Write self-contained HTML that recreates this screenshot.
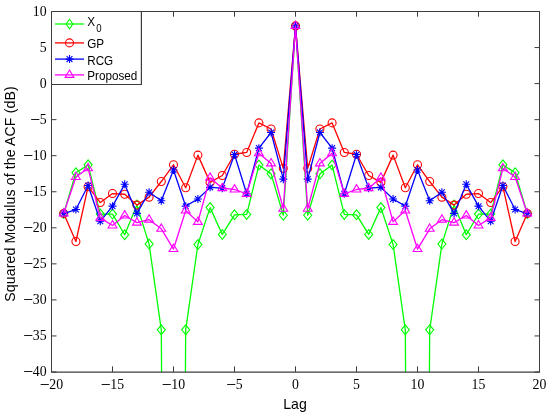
<!DOCTYPE html><html><head><meta charset="utf-8"><style>html,body{margin:0;padding:0;background:#fff;}svg{display:block}</style></head><body><svg width="550" height="417" viewBox="0 0 550 417">
<rect width="550" height="417" fill="#fff"/>
<defs><clipPath id="ax"><rect x="51" y="11" width="489" height="361"/></clipPath></defs>
<g clip-path="url(#ax)">
<polyline points="63.70,213.52 75.90,172.72 88.10,164.86 100.30,214.10 112.50,214.10 124.70,234.79 136.90,205.09 149.10,244.09 161.30,329.82 161.57,372.00" fill="none" stroke="#00ff00" stroke-width="1.3" stroke-linejoin="round"/>
<polyline points="185.43,372.00 185.70,329.82 197.90,244.53 210.10,207.61 222.30,234.43 234.50,214.82 246.70,214.46 258.90,165.07 271.10,173.87 283.30,215.25 295.50,25.92 307.70,215.25 319.90,173.87 332.10,165.07 344.30,214.46 356.50,214.82 368.70,234.43 380.90,207.61 393.10,244.53 405.30,329.82 405.57,372.00" fill="none" stroke="#00ff00" stroke-width="1.3" stroke-linejoin="round"/>
<polyline points="429.43,372.00 429.70,329.82 441.90,244.09 454.10,205.09 466.30,234.79 478.50,214.10 490.70,214.10 502.90,164.86 515.10,172.72 527.30,213.52" fill="none" stroke="#00ff00" stroke-width="1.3" stroke-linejoin="round"/>
<path d="M63.70,208.62L67.70,213.52L63.70,218.42L59.70,213.52Z" fill="none" stroke="#00ff00" stroke-width="1.1"/>
<path d="M75.90,167.82L79.90,172.72L75.90,177.62L71.90,172.72Z" fill="none" stroke="#00ff00" stroke-width="1.1"/>
<path d="M88.10,159.96L92.10,164.86L88.10,169.76L84.10,164.86Z" fill="none" stroke="#00ff00" stroke-width="1.1"/>
<path d="M100.30,209.20L104.30,214.10L100.30,219.00L96.30,214.10Z" fill="none" stroke="#00ff00" stroke-width="1.1"/>
<path d="M112.50,209.20L116.50,214.10L112.50,219.00L108.50,214.10Z" fill="none" stroke="#00ff00" stroke-width="1.1"/>
<path d="M124.70,229.89L128.70,234.79L124.70,239.69L120.70,234.79Z" fill="none" stroke="#00ff00" stroke-width="1.1"/>
<path d="M136.90,200.19L140.90,205.09L136.90,209.99L132.90,205.09Z" fill="none" stroke="#00ff00" stroke-width="1.1"/>
<path d="M149.10,239.19L153.10,244.09L149.10,248.99L145.10,244.09Z" fill="none" stroke="#00ff00" stroke-width="1.1"/>
<path d="M161.30,324.92L165.30,329.82L161.30,334.72L157.30,329.82Z" fill="none" stroke="#00ff00" stroke-width="1.1"/>
<path d="M185.70,324.92L189.70,329.82L185.70,334.72L181.70,329.82Z" fill="none" stroke="#00ff00" stroke-width="1.1"/>
<path d="M197.90,239.63L201.90,244.53L197.90,249.43L193.90,244.53Z" fill="none" stroke="#00ff00" stroke-width="1.1"/>
<path d="M210.10,202.71L214.10,207.61L210.10,212.51L206.10,207.61Z" fill="none" stroke="#00ff00" stroke-width="1.1"/>
<path d="M222.30,229.53L226.30,234.43L222.30,239.33L218.30,234.43Z" fill="none" stroke="#00ff00" stroke-width="1.1"/>
<path d="M234.50,209.92L238.50,214.82L234.50,219.72L230.50,214.82Z" fill="none" stroke="#00ff00" stroke-width="1.1"/>
<path d="M246.70,209.56L250.70,214.46L246.70,219.36L242.70,214.46Z" fill="none" stroke="#00ff00" stroke-width="1.1"/>
<path d="M258.90,160.17L262.90,165.07L258.90,169.97L254.90,165.07Z" fill="none" stroke="#00ff00" stroke-width="1.1"/>
<path d="M271.10,168.97L275.10,173.87L271.10,178.77L267.10,173.87Z" fill="none" stroke="#00ff00" stroke-width="1.1"/>
<path d="M283.30,210.35L287.30,215.25L283.30,220.15L279.30,215.25Z" fill="none" stroke="#00ff00" stroke-width="1.1"/>
<path d="M295.50,21.02L299.50,25.92L295.50,30.82L291.50,25.92Z" fill="none" stroke="#00ff00" stroke-width="1.1"/>
<path d="M307.70,210.35L311.70,215.25L307.70,220.15L303.70,215.25Z" fill="none" stroke="#00ff00" stroke-width="1.1"/>
<path d="M319.90,168.97L323.90,173.87L319.90,178.77L315.90,173.87Z" fill="none" stroke="#00ff00" stroke-width="1.1"/>
<path d="M332.10,160.17L336.10,165.07L332.10,169.97L328.10,165.07Z" fill="none" stroke="#00ff00" stroke-width="1.1"/>
<path d="M344.30,209.56L348.30,214.46L344.30,219.36L340.30,214.46Z" fill="none" stroke="#00ff00" stroke-width="1.1"/>
<path d="M356.50,209.92L360.50,214.82L356.50,219.72L352.50,214.82Z" fill="none" stroke="#00ff00" stroke-width="1.1"/>
<path d="M368.70,229.53L372.70,234.43L368.70,239.33L364.70,234.43Z" fill="none" stroke="#00ff00" stroke-width="1.1"/>
<path d="M380.90,202.71L384.90,207.61L380.90,212.51L376.90,207.61Z" fill="none" stroke="#00ff00" stroke-width="1.1"/>
<path d="M393.10,239.63L397.10,244.53L393.10,249.43L389.10,244.53Z" fill="none" stroke="#00ff00" stroke-width="1.1"/>
<path d="M405.30,324.92L409.30,329.82L405.30,334.72L401.30,329.82Z" fill="none" stroke="#00ff00" stroke-width="1.1"/>
<path d="M429.70,324.92L433.70,329.82L429.70,334.72L425.70,329.82Z" fill="none" stroke="#00ff00" stroke-width="1.1"/>
<path d="M441.90,239.19L445.90,244.09L441.90,248.99L437.90,244.09Z" fill="none" stroke="#00ff00" stroke-width="1.1"/>
<path d="M454.10,200.19L458.10,205.09L454.10,209.99L450.10,205.09Z" fill="none" stroke="#00ff00" stroke-width="1.1"/>
<path d="M466.30,229.89L470.30,234.79L466.30,239.69L462.30,234.79Z" fill="none" stroke="#00ff00" stroke-width="1.1"/>
<path d="M478.50,209.20L482.50,214.10L478.50,219.00L474.50,214.10Z" fill="none" stroke="#00ff00" stroke-width="1.1"/>
<path d="M490.70,209.20L494.70,214.10L490.70,219.00L486.70,214.10Z" fill="none" stroke="#00ff00" stroke-width="1.1"/>
<path d="M502.90,159.96L506.90,164.86L502.90,169.76L498.90,164.86Z" fill="none" stroke="#00ff00" stroke-width="1.1"/>
<path d="M515.10,167.82L519.10,172.72L515.10,177.62L511.10,172.72Z" fill="none" stroke="#00ff00" stroke-width="1.1"/>
<path d="M527.30,208.62L531.30,213.52L527.30,218.42L523.30,213.52Z" fill="none" stroke="#00ff00" stroke-width="1.1"/>
<polyline points="63.70,213.52 75.90,241.50 88.10,186.70 100.30,202.56 112.50,193.55 124.70,194.27 136.90,205.09 149.10,197.16 161.30,181.51 173.50,164.78 185.70,187.71 197.90,155.12 210.10,182.38 222.30,175.53 234.50,154.26 246.70,152.46 258.90,122.89 271.10,129.02 283.30,168.32 295.50,25.92 307.70,168.32 319.90,129.02 332.10,122.89 344.30,152.46 356.50,154.26 368.70,175.53 380.90,182.38 393.10,155.12 405.30,187.71 417.50,164.78 429.70,181.51 441.90,197.16 454.10,205.09 466.30,194.27 478.50,193.55 490.70,202.56 502.90,186.70 515.10,241.50 527.30,213.52" fill="none" stroke="#ff0000" stroke-width="1.3" stroke-linejoin="round"/>
<circle cx="63.70" cy="213.52" r="4" fill="none" stroke="#ff0000" stroke-width="1.1"/>
<circle cx="75.90" cy="241.50" r="4" fill="none" stroke="#ff0000" stroke-width="1.1"/>
<circle cx="88.10" cy="186.70" r="4" fill="none" stroke="#ff0000" stroke-width="1.1"/>
<circle cx="100.30" cy="202.56" r="4" fill="none" stroke="#ff0000" stroke-width="1.1"/>
<circle cx="112.50" cy="193.55" r="4" fill="none" stroke="#ff0000" stroke-width="1.1"/>
<circle cx="124.70" cy="194.27" r="4" fill="none" stroke="#ff0000" stroke-width="1.1"/>
<circle cx="136.90" cy="205.09" r="4" fill="none" stroke="#ff0000" stroke-width="1.1"/>
<circle cx="149.10" cy="197.16" r="4" fill="none" stroke="#ff0000" stroke-width="1.1"/>
<circle cx="161.30" cy="181.51" r="4" fill="none" stroke="#ff0000" stroke-width="1.1"/>
<circle cx="173.50" cy="164.78" r="4" fill="none" stroke="#ff0000" stroke-width="1.1"/>
<circle cx="185.70" cy="187.71" r="4" fill="none" stroke="#ff0000" stroke-width="1.1"/>
<circle cx="197.90" cy="155.12" r="4" fill="none" stroke="#ff0000" stroke-width="1.1"/>
<circle cx="210.10" cy="182.38" r="4" fill="none" stroke="#ff0000" stroke-width="1.1"/>
<circle cx="222.30" cy="175.53" r="4" fill="none" stroke="#ff0000" stroke-width="1.1"/>
<circle cx="234.50" cy="154.26" r="4" fill="none" stroke="#ff0000" stroke-width="1.1"/>
<circle cx="246.70" cy="152.46" r="4" fill="none" stroke="#ff0000" stroke-width="1.1"/>
<circle cx="258.90" cy="122.89" r="4" fill="none" stroke="#ff0000" stroke-width="1.1"/>
<circle cx="271.10" cy="129.02" r="4" fill="none" stroke="#ff0000" stroke-width="1.1"/>
<circle cx="283.30" cy="168.32" r="4" fill="none" stroke="#ff0000" stroke-width="1.1"/>
<circle cx="295.50" cy="25.92" r="4" fill="none" stroke="#ff0000" stroke-width="1.1"/>
<circle cx="307.70" cy="168.32" r="4" fill="none" stroke="#ff0000" stroke-width="1.1"/>
<circle cx="319.90" cy="129.02" r="4" fill="none" stroke="#ff0000" stroke-width="1.1"/>
<circle cx="332.10" cy="122.89" r="4" fill="none" stroke="#ff0000" stroke-width="1.1"/>
<circle cx="344.30" cy="152.46" r="4" fill="none" stroke="#ff0000" stroke-width="1.1"/>
<circle cx="356.50" cy="154.26" r="4" fill="none" stroke="#ff0000" stroke-width="1.1"/>
<circle cx="368.70" cy="175.53" r="4" fill="none" stroke="#ff0000" stroke-width="1.1"/>
<circle cx="380.90" cy="182.38" r="4" fill="none" stroke="#ff0000" stroke-width="1.1"/>
<circle cx="393.10" cy="155.12" r="4" fill="none" stroke="#ff0000" stroke-width="1.1"/>
<circle cx="405.30" cy="187.71" r="4" fill="none" stroke="#ff0000" stroke-width="1.1"/>
<circle cx="417.50" cy="164.78" r="4" fill="none" stroke="#ff0000" stroke-width="1.1"/>
<circle cx="429.70" cy="181.51" r="4" fill="none" stroke="#ff0000" stroke-width="1.1"/>
<circle cx="441.90" cy="197.16" r="4" fill="none" stroke="#ff0000" stroke-width="1.1"/>
<circle cx="454.10" cy="205.09" r="4" fill="none" stroke="#ff0000" stroke-width="1.1"/>
<circle cx="466.30" cy="194.27" r="4" fill="none" stroke="#ff0000" stroke-width="1.1"/>
<circle cx="478.50" cy="193.55" r="4" fill="none" stroke="#ff0000" stroke-width="1.1"/>
<circle cx="490.70" cy="202.56" r="4" fill="none" stroke="#ff0000" stroke-width="1.1"/>
<circle cx="502.90" cy="186.70" r="4" fill="none" stroke="#ff0000" stroke-width="1.1"/>
<circle cx="515.10" cy="241.50" r="4" fill="none" stroke="#ff0000" stroke-width="1.1"/>
<circle cx="527.30" cy="213.52" r="4" fill="none" stroke="#ff0000" stroke-width="1.1"/>
<polyline points="63.70,213.52 75.90,209.56 88.10,185.55 100.30,221.31 112.50,206.17 124.70,184.32 136.90,213.38 149.10,192.25 161.30,200.76 173.50,170.05 185.70,206.17 197.90,198.96 210.10,187.35 222.30,188.15 234.50,154.47 246.70,193.77 258.90,148.13 271.10,132.48 283.30,179.13 295.50,25.92 307.70,179.13 319.90,132.48 332.10,148.13 344.30,193.77 356.50,154.47 368.70,188.15 380.90,187.35 393.10,198.96 405.30,206.17 417.50,170.05 429.70,200.76 441.90,192.25 454.10,213.38 466.30,184.32 478.50,206.17 490.70,221.31 502.90,185.55 515.10,209.56 527.30,213.52" fill="none" stroke="#0000ff" stroke-width="1.3" stroke-linejoin="round"/>
<path d="M63.70,209.52V217.52M59.70,213.52H67.70M60.80,210.62L66.60,216.42M60.80,216.42L66.60,210.62" fill="none" stroke="#0000ff" stroke-width="1.1"/>
<path d="M75.90,205.56V213.56M71.90,209.56H79.90M73.00,206.66L78.80,212.46M73.00,212.46L78.80,206.66" fill="none" stroke="#0000ff" stroke-width="1.1"/>
<path d="M88.10,181.55V189.55M84.10,185.55H92.10M85.20,182.65L91.00,188.45M85.20,188.45L91.00,182.65" fill="none" stroke="#0000ff" stroke-width="1.1"/>
<path d="M100.30,217.31V225.31M96.30,221.31H104.30M97.40,218.41L103.20,224.21M97.40,224.21L103.20,218.41" fill="none" stroke="#0000ff" stroke-width="1.1"/>
<path d="M112.50,202.17V210.17M108.50,206.17H116.50M109.60,203.27L115.40,209.07M109.60,209.07L115.40,203.27" fill="none" stroke="#0000ff" stroke-width="1.1"/>
<path d="M124.70,180.32V188.32M120.70,184.32H128.70M121.80,181.42L127.60,187.22M121.80,187.22L127.60,181.42" fill="none" stroke="#0000ff" stroke-width="1.1"/>
<path d="M136.90,209.38V217.38M132.90,213.38H140.90M134.00,210.48L139.80,216.28M134.00,216.28L139.80,210.48" fill="none" stroke="#0000ff" stroke-width="1.1"/>
<path d="M149.10,188.25V196.25M145.10,192.25H153.10M146.20,189.35L152.00,195.15M146.20,195.15L152.00,189.35" fill="none" stroke="#0000ff" stroke-width="1.1"/>
<path d="M161.30,196.76V204.76M157.30,200.76H165.30M158.40,197.86L164.20,203.66M158.40,203.66L164.20,197.86" fill="none" stroke="#0000ff" stroke-width="1.1"/>
<path d="M173.50,166.05V174.05M169.50,170.05H177.50M170.60,167.15L176.40,172.95M170.60,172.95L176.40,167.15" fill="none" stroke="#0000ff" stroke-width="1.1"/>
<path d="M185.70,202.17V210.17M181.70,206.17H189.70M182.80,203.27L188.60,209.07M182.80,209.07L188.60,203.27" fill="none" stroke="#0000ff" stroke-width="1.1"/>
<path d="M197.90,194.96V202.96M193.90,198.96H201.90M195.00,196.06L200.80,201.86M195.00,201.86L200.80,196.06" fill="none" stroke="#0000ff" stroke-width="1.1"/>
<path d="M210.10,183.35V191.35M206.10,187.35H214.10M207.20,184.45L213.00,190.25M207.20,190.25L213.00,184.45" fill="none" stroke="#0000ff" stroke-width="1.1"/>
<path d="M222.30,184.15V192.15M218.30,188.15H226.30M219.40,185.25L225.20,191.05M219.40,191.05L225.20,185.25" fill="none" stroke="#0000ff" stroke-width="1.1"/>
<path d="M234.50,150.47V158.47M230.50,154.47H238.50M231.60,151.57L237.40,157.37M231.60,157.37L237.40,151.57" fill="none" stroke="#0000ff" stroke-width="1.1"/>
<path d="M246.70,189.77V197.77M242.70,193.77H250.70M243.80,190.87L249.60,196.67M243.80,196.67L249.60,190.87" fill="none" stroke="#0000ff" stroke-width="1.1"/>
<path d="M258.90,144.13V152.13M254.90,148.13H262.90M256.00,145.23L261.80,151.03M256.00,151.03L261.80,145.23" fill="none" stroke="#0000ff" stroke-width="1.1"/>
<path d="M271.10,128.48V136.48M267.10,132.48H275.10M268.20,129.58L274.00,135.38M268.20,135.38L274.00,129.58" fill="none" stroke="#0000ff" stroke-width="1.1"/>
<path d="M283.30,175.13V183.13M279.30,179.13H287.30M280.40,176.23L286.20,182.03M280.40,182.03L286.20,176.23" fill="none" stroke="#0000ff" stroke-width="1.1"/>
<path d="M295.50,21.92V29.92M291.50,25.92H299.50M292.60,23.02L298.40,28.82M292.60,28.82L298.40,23.02" fill="none" stroke="#0000ff" stroke-width="1.1"/>
<path d="M307.70,175.13V183.13M303.70,179.13H311.70M304.80,176.23L310.60,182.03M304.80,182.03L310.60,176.23" fill="none" stroke="#0000ff" stroke-width="1.1"/>
<path d="M319.90,128.48V136.48M315.90,132.48H323.90M317.00,129.58L322.80,135.38M317.00,135.38L322.80,129.58" fill="none" stroke="#0000ff" stroke-width="1.1"/>
<path d="M332.10,144.13V152.13M328.10,148.13H336.10M329.20,145.23L335.00,151.03M329.20,151.03L335.00,145.23" fill="none" stroke="#0000ff" stroke-width="1.1"/>
<path d="M344.30,189.77V197.77M340.30,193.77H348.30M341.40,190.87L347.20,196.67M341.40,196.67L347.20,190.87" fill="none" stroke="#0000ff" stroke-width="1.1"/>
<path d="M356.50,150.47V158.47M352.50,154.47H360.50M353.60,151.57L359.40,157.37M353.60,157.37L359.40,151.57" fill="none" stroke="#0000ff" stroke-width="1.1"/>
<path d="M368.70,184.15V192.15M364.70,188.15H372.70M365.80,185.25L371.60,191.05M365.80,191.05L371.60,185.25" fill="none" stroke="#0000ff" stroke-width="1.1"/>
<path d="M380.90,183.35V191.35M376.90,187.35H384.90M378.00,184.45L383.80,190.25M378.00,190.25L383.80,184.45" fill="none" stroke="#0000ff" stroke-width="1.1"/>
<path d="M393.10,194.96V202.96M389.10,198.96H397.10M390.20,196.06L396.00,201.86M390.20,201.86L396.00,196.06" fill="none" stroke="#0000ff" stroke-width="1.1"/>
<path d="M405.30,202.17V210.17M401.30,206.17H409.30M402.40,203.27L408.20,209.07M402.40,209.07L408.20,203.27" fill="none" stroke="#0000ff" stroke-width="1.1"/>
<path d="M417.50,166.05V174.05M413.50,170.05H421.50M414.60,167.15L420.40,172.95M414.60,172.95L420.40,167.15" fill="none" stroke="#0000ff" stroke-width="1.1"/>
<path d="M429.70,196.76V204.76M425.70,200.76H433.70M426.80,197.86L432.60,203.66M426.80,203.66L432.60,197.86" fill="none" stroke="#0000ff" stroke-width="1.1"/>
<path d="M441.90,188.25V196.25M437.90,192.25H445.90M439.00,189.35L444.80,195.15M439.00,195.15L444.80,189.35" fill="none" stroke="#0000ff" stroke-width="1.1"/>
<path d="M454.10,209.38V217.38M450.10,213.38H458.10M451.20,210.48L457.00,216.28M451.20,216.28L457.00,210.48" fill="none" stroke="#0000ff" stroke-width="1.1"/>
<path d="M466.30,180.32V188.32M462.30,184.32H470.30M463.40,181.42L469.20,187.22M463.40,187.22L469.20,181.42" fill="none" stroke="#0000ff" stroke-width="1.1"/>
<path d="M478.50,202.17V210.17M474.50,206.17H482.50M475.60,203.27L481.40,209.07M475.60,209.07L481.40,203.27" fill="none" stroke="#0000ff" stroke-width="1.1"/>
<path d="M490.70,217.31V225.31M486.70,221.31H494.70M487.80,218.41L493.60,224.21M487.80,224.21L493.60,218.41" fill="none" stroke="#0000ff" stroke-width="1.1"/>
<path d="M502.90,181.55V189.55M498.90,185.55H506.90M500.00,182.65L505.80,188.45M500.00,188.45L505.80,182.65" fill="none" stroke="#0000ff" stroke-width="1.1"/>
<path d="M515.10,205.56V213.56M511.10,209.56H519.10M512.20,206.66L518.00,212.46M512.20,212.46L518.00,206.66" fill="none" stroke="#0000ff" stroke-width="1.1"/>
<path d="M527.30,209.52V217.52M523.30,213.52H531.30M524.40,210.62L530.20,216.42M524.40,216.42L530.20,210.62" fill="none" stroke="#0000ff" stroke-width="1.1"/>
<polyline points="63.70,213.52 75.90,176.97 88.10,168.32 100.30,217.85 112.50,225.49 124.70,215.54 136.90,222.61 149.10,219.65 161.30,228.81 173.50,249.07 185.70,210.50 197.90,221.89 210.10,177.76 222.30,188.15 234.50,189.51 246.70,193.91 258.90,153.18 271.10,163.41 283.30,208.77 295.50,25.92 307.70,208.77 319.90,163.41 332.10,153.18 344.30,193.91 356.50,189.51 368.70,188.15 380.90,177.76 393.10,221.89 405.30,210.50 417.50,249.07 429.70,228.81 441.90,219.65 454.10,222.61 466.30,215.54 478.50,225.49 490.70,217.85 502.90,168.32 515.10,176.97 527.30,213.52" fill="none" stroke="#ff00ff" stroke-width="1.3" stroke-linejoin="round"/>
<path d="M63.70,208.62L68.10,216.02L59.30,216.02Z" fill="none" stroke="#ff00ff" stroke-width="1.1"/>
<path d="M75.90,172.07L80.30,179.47L71.50,179.47Z" fill="none" stroke="#ff00ff" stroke-width="1.1"/>
<path d="M88.10,163.42L92.50,170.82L83.70,170.82Z" fill="none" stroke="#ff00ff" stroke-width="1.1"/>
<path d="M100.30,212.95L104.70,220.35L95.90,220.35Z" fill="none" stroke="#ff00ff" stroke-width="1.1"/>
<path d="M112.50,220.59L116.90,227.99L108.10,227.99Z" fill="none" stroke="#ff00ff" stroke-width="1.1"/>
<path d="M124.70,210.64L129.10,218.04L120.30,218.04Z" fill="none" stroke="#ff00ff" stroke-width="1.1"/>
<path d="M136.90,217.71L141.30,225.11L132.50,225.11Z" fill="none" stroke="#ff00ff" stroke-width="1.1"/>
<path d="M149.10,214.75L153.50,222.15L144.70,222.15Z" fill="none" stroke="#ff00ff" stroke-width="1.1"/>
<path d="M161.30,223.91L165.70,231.31L156.90,231.31Z" fill="none" stroke="#ff00ff" stroke-width="1.1"/>
<path d="M173.50,244.17L177.90,251.57L169.10,251.57Z" fill="none" stroke="#ff00ff" stroke-width="1.1"/>
<path d="M185.70,205.60L190.10,213.00L181.30,213.00Z" fill="none" stroke="#ff00ff" stroke-width="1.1"/>
<path d="M197.90,216.99L202.30,224.39L193.50,224.39Z" fill="none" stroke="#ff00ff" stroke-width="1.1"/>
<path d="M210.10,172.86L214.50,180.26L205.70,180.26Z" fill="none" stroke="#ff00ff" stroke-width="1.1"/>
<path d="M222.30,183.25L226.70,190.65L217.90,190.65Z" fill="none" stroke="#ff00ff" stroke-width="1.1"/>
<path d="M234.50,184.61L238.90,192.01L230.10,192.01Z" fill="none" stroke="#ff00ff" stroke-width="1.1"/>
<path d="M246.70,189.01L251.10,196.41L242.30,196.41Z" fill="none" stroke="#ff00ff" stroke-width="1.1"/>
<path d="M258.90,148.28L263.30,155.68L254.50,155.68Z" fill="none" stroke="#ff00ff" stroke-width="1.1"/>
<path d="M271.10,158.51L275.50,165.91L266.70,165.91Z" fill="none" stroke="#ff00ff" stroke-width="1.1"/>
<path d="M283.30,203.87L287.70,211.27L278.90,211.27Z" fill="none" stroke="#ff00ff" stroke-width="1.1"/>
<path d="M295.50,21.02L299.90,28.42L291.10,28.42Z" fill="none" stroke="#ff00ff" stroke-width="1.1"/>
<path d="M307.70,203.87L312.10,211.27L303.30,211.27Z" fill="none" stroke="#ff00ff" stroke-width="1.1"/>
<path d="M319.90,158.51L324.30,165.91L315.50,165.91Z" fill="none" stroke="#ff00ff" stroke-width="1.1"/>
<path d="M332.10,148.28L336.50,155.68L327.70,155.68Z" fill="none" stroke="#ff00ff" stroke-width="1.1"/>
<path d="M344.30,189.01L348.70,196.41L339.90,196.41Z" fill="none" stroke="#ff00ff" stroke-width="1.1"/>
<path d="M356.50,184.61L360.90,192.01L352.10,192.01Z" fill="none" stroke="#ff00ff" stroke-width="1.1"/>
<path d="M368.70,183.25L373.10,190.65L364.30,190.65Z" fill="none" stroke="#ff00ff" stroke-width="1.1"/>
<path d="M380.90,172.86L385.30,180.26L376.50,180.26Z" fill="none" stroke="#ff00ff" stroke-width="1.1"/>
<path d="M393.10,216.99L397.50,224.39L388.70,224.39Z" fill="none" stroke="#ff00ff" stroke-width="1.1"/>
<path d="M405.30,205.60L409.70,213.00L400.90,213.00Z" fill="none" stroke="#ff00ff" stroke-width="1.1"/>
<path d="M417.50,244.17L421.90,251.57L413.10,251.57Z" fill="none" stroke="#ff00ff" stroke-width="1.1"/>
<path d="M429.70,223.91L434.10,231.31L425.30,231.31Z" fill="none" stroke="#ff00ff" stroke-width="1.1"/>
<path d="M441.90,214.75L446.30,222.15L437.50,222.15Z" fill="none" stroke="#ff00ff" stroke-width="1.1"/>
<path d="M454.10,217.71L458.50,225.11L449.70,225.11Z" fill="none" stroke="#ff00ff" stroke-width="1.1"/>
<path d="M466.30,210.64L470.70,218.04L461.90,218.04Z" fill="none" stroke="#ff00ff" stroke-width="1.1"/>
<path d="M478.50,220.59L482.90,227.99L474.10,227.99Z" fill="none" stroke="#ff00ff" stroke-width="1.1"/>
<path d="M490.70,212.95L495.10,220.35L486.30,220.35Z" fill="none" stroke="#ff00ff" stroke-width="1.1"/>
<path d="M502.90,163.42L507.30,170.82L498.50,170.82Z" fill="none" stroke="#ff00ff" stroke-width="1.1"/>
<path d="M515.10,172.07L519.50,179.47L510.70,179.47Z" fill="none" stroke="#ff00ff" stroke-width="1.1"/>
<path d="M527.30,208.62L531.70,216.02L522.90,216.02Z" fill="none" stroke="#ff00ff" stroke-width="1.1"/>
</g>
<path d="M51.5,372.1V11.5H539.5V372.1" fill="none" stroke="#3c3c3c" stroke-width="1"/>
<path d="M51.0,372.1H540.0" fill="none" stroke="#3c3c3c" stroke-width="1.4"/>
<path d="M51.5,372.0V366.4M51.5,11.5V16.7M112.5,372.0V366.4M112.5,11.5V16.7M173.5,372.0V366.4M173.5,11.5V16.7M234.5,372.0V366.4M234.5,11.5V16.7M295.5,372.0V366.4M295.5,11.5V16.7M356.5,372.0V366.4M356.5,11.5V16.7M417.5,372.0V366.4M417.5,11.5V16.7M478.5,372.0V366.4M478.5,11.5V16.7M539.5,372.0V366.4M539.5,11.5V16.7M51.5,372.00H56.5M539.5,372.00H534.5M51.5,335.95H56.5M539.5,335.95H534.5M51.5,299.90H56.5M539.5,299.90H534.5M51.5,263.85H56.5M539.5,263.85H534.5M51.5,227.80H56.5M539.5,227.80H534.5M51.5,191.75H56.5M539.5,191.75H534.5M51.5,155.70H56.5M539.5,155.70H534.5M51.5,119.65H56.5M539.5,119.65H534.5M51.5,83.60H56.5M539.5,83.60H534.5M51.5,47.55H56.5M539.5,47.55H534.5M51.5,11.50H56.5M539.5,11.50H534.5" stroke="#3c3c3c" stroke-width="1" fill="none"/>
<g font-family="Liberation Serif, serif" font-size="13.8" fill="#000">
<text x="51.50" y="388.5" text-anchor="middle"><tspan font-size="16.5" dy="1.2" stroke="#000" stroke-width="0.35">−</tspan><tspan dy="-1.2">20</tspan></text>
<text x="112.50" y="388.5" text-anchor="middle"><tspan font-size="16.5" dy="1.2" stroke="#000" stroke-width="0.35">−</tspan><tspan dy="-1.2">15</tspan></text>
<text x="173.50" y="388.5" text-anchor="middle"><tspan font-size="16.5" dy="1.2" stroke="#000" stroke-width="0.35">−</tspan><tspan dy="-1.2">10</tspan></text>
<text x="234.50" y="388.5" text-anchor="middle"><tspan font-size="16.5" dy="1.2" stroke="#000" stroke-width="0.35">−</tspan><tspan dy="-1.2">5</tspan></text>
<text x="295.50" y="388.5" text-anchor="middle">0</text>
<text x="356.50" y="388.5" text-anchor="middle">5</text>
<text x="417.50" y="388.5" text-anchor="middle">10</text>
<text x="478.50" y="388.5" text-anchor="middle">15</text>
<text x="539.50" y="388.5" text-anchor="middle">20</text>
<text x="46.6" y="376.00" text-anchor="end"><tspan font-size="16.5" dy="1.2" stroke="#000" stroke-width="0.35">−</tspan><tspan dy="-1.2">40</tspan></text>
<text x="46.6" y="339.95" text-anchor="end"><tspan font-size="16.5" dy="1.2" stroke="#000" stroke-width="0.35">−</tspan><tspan dy="-1.2">35</tspan></text>
<text x="46.6" y="303.90" text-anchor="end"><tspan font-size="16.5" dy="1.2" stroke="#000" stroke-width="0.35">−</tspan><tspan dy="-1.2">30</tspan></text>
<text x="46.6" y="267.85" text-anchor="end"><tspan font-size="16.5" dy="1.2" stroke="#000" stroke-width="0.35">−</tspan><tspan dy="-1.2">25</tspan></text>
<text x="46.6" y="231.80" text-anchor="end"><tspan font-size="16.5" dy="1.2" stroke="#000" stroke-width="0.35">−</tspan><tspan dy="-1.2">20</tspan></text>
<text x="46.6" y="195.75" text-anchor="end"><tspan font-size="16.5" dy="1.2" stroke="#000" stroke-width="0.35">−</tspan><tspan dy="-1.2">15</tspan></text>
<text x="46.6" y="159.70" text-anchor="end"><tspan font-size="16.5" dy="1.2" stroke="#000" stroke-width="0.35">−</tspan><tspan dy="-1.2">10</tspan></text>
<text x="46.6" y="123.65" text-anchor="end"><tspan font-size="16.5" dy="1.2" stroke="#000" stroke-width="0.35">−</tspan><tspan dy="-1.2">5</tspan></text>
<text x="46.6" y="87.60" text-anchor="end">0</text>
<text x="46.6" y="51.55" text-anchor="end">5</text>
<text x="46.6" y="15.50" text-anchor="end">10</text>
</g>
<g font-family="Liberation Sans, Arial, sans-serif" font-size="14.1" fill="#000">
<text x="295" y="409.4" text-anchor="middle">Lag</text>
<text transform="translate(14.9,194.0) rotate(-90)" text-anchor="middle" letter-spacing="0.13">Squared Modulus of the ACF (dB)</text>
</g>
<rect x="51.5" y="11.5" width="89.9" height="73" fill="#fff"/>
<path d="M51.5,11.5H141.4M51.5,84.5H141.4M51.5,11.5V84.5" fill="none" stroke="#3c3c3c" stroke-width="1"/>
<path d="M141.4,11.0V85" fill="none" stroke="#3c3c3c" stroke-width="1.2"/>
<path d="M55,24.0H84" stroke="#00ff00" stroke-width="1.3"/>
<path d="M69.50,19.30L72.90,24.00L69.50,28.70L66.10,24.00Z" fill="none" stroke="#00ff00" stroke-width="1.1"/>
<path d="M55,42.9H84" stroke="#ff0000" stroke-width="1.3"/>
<circle cx="69.50" cy="42.90" r="4" fill="none" stroke="#ff0000" stroke-width="1.1"/>
<path d="M55,59.1H84" stroke="#0000ff" stroke-width="1.3"/>
<path d="M69.50,55.10V63.10M65.50,59.10H73.50M66.60,56.20L72.40,62.00M66.60,62.00L72.40,56.20" fill="none" stroke="#0000ff" stroke-width="1.1"/>
<path d="M55,74.9H84" stroke="#ff00ff" stroke-width="1.3"/>
<path d="M69.50,70.00L73.90,77.40L65.10,77.40Z" fill="none" stroke="#ff00ff" stroke-width="1.1"/>
<g font-family="Liberation Sans, Arial, sans-serif" font-size="12.2" fill="#000" transform="translate(87.2,0) scale(0.96,1) translate(-87.2,0)">
<text x="87.2" y="26.3">X<tspan font-size="10" dx="1.2" dy="5.5">0</tspan></text>
<text x="87.2" y="48.0">GP</text>
<text x="87.2" y="64.6">RCG</text>
<text x="87.2" y="79.8">Proposed</text>
</g>
</svg></body></html>
